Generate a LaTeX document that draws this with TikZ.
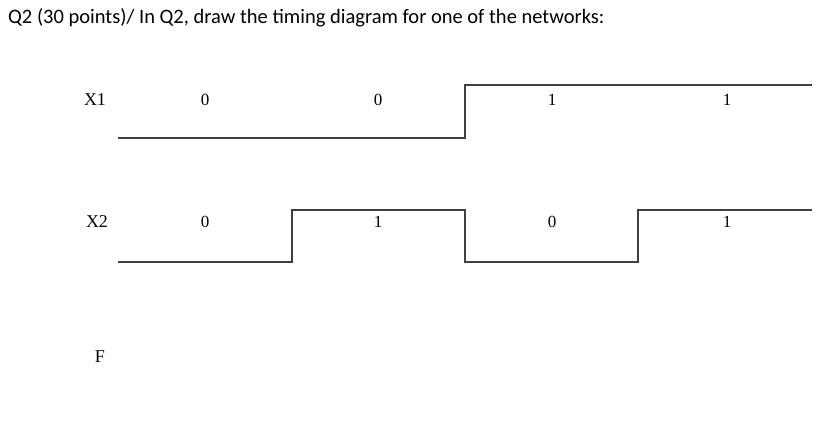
\documentclass[tikz,border=0pt]{standalone}
\usepackage{fontspec}
\setmainfont{Liberation Serif}
\newfontfamily\titlefont{Carlito}
\begin{document}
\begin{tikzpicture}[x=1pt,y=-1pt,
  lbl/.style={font=\fontsize{18}{20}\selectfont},
  val/.style={font=\fontsize{17}{19}\selectfont},
  wave/.style={draw=black!75,line width=1.2pt}]
\useasboundingbox (0,0) rectangle (837,423);
\node[anchor=west,font=\titlefont\fontsize{20.5}{23}\selectfont,inner sep=0pt] (title) at (8,18) {Q2 (30 points)/ In Q2, draw the timing diagram for one of the networks:};
\node[lbl] (x1) at (95,100) {X1};
\node[lbl] (x2) at (97,222) {X2};
\node[lbl] (f) at (100,357) {F};
\foreach \n/\x/\v in {a/205/0,b/378/0,c/552/1,d/727/1}
  \node[val] (x1\n) at (\x,100) {\v};
\foreach \n/\x/\v in {a/205/0,b/378/1,c/552/0,d/727/1}
  \node[val] (x2\n) at (\x,222) {\v};
\draw[wave] (118,138) -- (465,138) -- (465,85) -- (812,85);
\draw[wave] (118,262) -- (292,262) -- (292,210) -- (465,210) -- (465,262) -- (638,262) -- (638,210) -- (812,210);
\end{tikzpicture}
\end{document}
